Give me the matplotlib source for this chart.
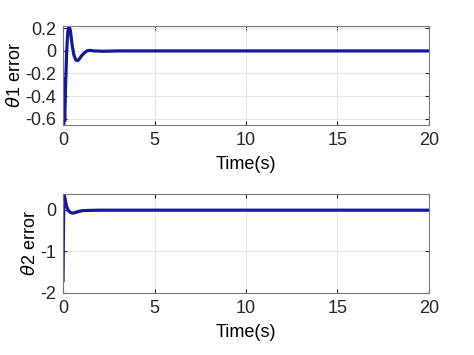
import matplotlib
matplotlib.use("Agg")
import matplotlib.pyplot as plt

# joint angle errors
t1 = [0, 0.03, 0.06, 0.09, 0.14, 0.2, 0.26, 0.33, 0.4, 0.5, 0.6, 0.7, 0.8, 0.9,
      1.0, 1.15, 1.3, 1.45, 1.7, 2.2, 3, 20]
e1 = [-0.25, -0.66, -0.45, -0.62, -0.3, 0.0, 0.17, 0.22, 0.18, 0.05, -0.04, -0.08,
      -0.086, -0.07, -0.045, -0.02, 0.0, 0.005, 0.0, -0.003, 0.0, 0.0]

t2 = [0, 0.02, 0.05, 0.1, 0.15, 0.2, 0.3, 0.4, 0.5, 0.6, 0.75, 0.9, 1.1, 1.4, 2, 20]
e2 = [-1.7, -0.6, 0.38, 0.3, 0.18, 0.08, -0.02, -0.06, -0.075, -0.07, -0.05, -0.03,
      -0.015, -0.01, -0.005, -0.005]

plt.rcParams['font.family'] = ['Liberation Sans', 'DejaVu Sans']
plt.rcParams['mathtext.fontset'] = 'dejavusans'

fig = plt.figure(figsize=(4.74, 3.55), dpi=100)
ax1 = fig.add_axes([0.133, 0.647, 0.772, 0.281])
ax2 = fig.add_axes([0.133, 0.175, 0.772, 0.279])

line_color = '#1616a0'
for ax, t, e, lab in [(ax1, t1, e1, r'$\theta$1 error'), (ax2, t2, e2, r'$\theta$2 error')]:
    ax.plot(t, e, color=line_color, linewidth=2.3)
    ax.set_xlim(0, 20)
    ax.set_xticks([0, 5, 10, 15, 20])
    ax.set_xlabel('Time(s)', fontsize=13, labelpad=5)
    ax.set_ylabel(lab, fontsize=13, labelpad=1)
    ax.grid(True, color='#e6e6e6', linewidth=0.8)
    ax.tick_params(direction='in', labelsize=13, colors='#262626', length=3,
                   top=True, right=True, pad=5)
    for s in ax.spines.values():
        s.set_color('#7a7a7a')
        s.set_linewidth(0.8)

ax1.set_ylim(-0.66, 0.225)
ax1.set_yticks([-0.6, -0.4, -0.2, 0, 0.2])
ax1.set_yticklabels(['-0.6', '-0.4', '-0.2', '0', '0.2'])

ax2.set_ylim(-2, 0.39)
ax2.set_yticks([-2, -1, 0])
ax2.set_yticklabels(['-2', '-1', '0'])

fig.savefig('out.png', dpi=100)
